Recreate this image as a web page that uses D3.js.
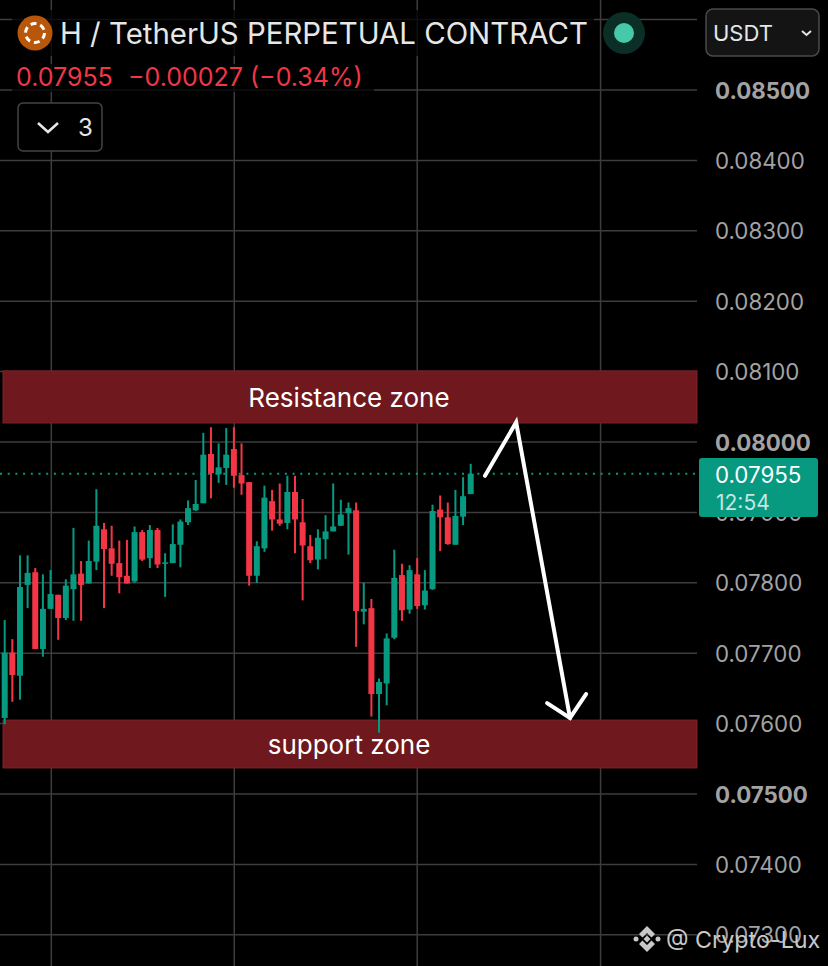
<!DOCTYPE html>
<html>
<head>
<meta charset="utf-8">
<script src="https://cdn.jsdelivr.net/npm/d3@7"></script>
<style>
  html, body { margin: 0; padding: 0; background: #000; }
  svg { display: block; font-family: Inter, "Noto Sans", sans-serif; }
</style>
</head>
<body>
<div id="chart"></div>
<script>
// candles
var opens = [0.07608,0.07701,0.07668,0.07797,0.07815,0.07706,0.07763,0.07783,0.07750,0.07791,0.07813,0.07799,0.07830,0.07876,0.07849,0.07828,0.07810,0.07802,0.07872,0.07835,0.07875,0.07828,0.07828,0.07854,0.07886,0.07903,0.07913,0.07983,0.07954,0.07963,0.07990,0.07953,0.07943,0.07810,0.07849,0.07916,0.07890,0.07885,0.07929,0.07886,0.07852,0.07833,0.07862,0.07873,0.07881,0.07899,0.07903,0.07759,0.07764,0.07642,0.07657,0.07722,0.07811,0.07762,0.07812,0.07768,0.07791,0.07904,0.07893,0.07854,0.07894,0.07926];
var highs = [0.07747,0.07720,0.07839,0.07839,0.07821,0.07812,0.07818,0.07783,0.07805,0.07878,0.07831,0.07860,0.07933,0.07885,0.07881,0.07860,0.07861,0.07880,0.07875,0.07882,0.07878,0.07842,0.07883,0.07890,0.07917,0.07946,0.08013,0.08021,0.07998,0.08020,0.08021,0.07998,0.07943,0.07859,0.07938,0.07932,0.07941,0.07952,0.07952,0.07919,0.07868,0.07876,0.07896,0.07941,0.07918,0.07914,0.07914,0.07800,0.07777,0.07664,0.07728,0.07847,0.07827,0.07825,0.07835,0.07818,0.07911,0.07924,0.07914,0.07932,0.07950,0.07969];
var lows = [0.07599,0.07631,0.07634,0.07764,0.07706,0.07695,0.07763,0.07719,0.07747,0.07746,0.07746,0.07799,0.07818,0.07764,0.07810,0.07785,0.07799,0.07800,0.07831,0.07821,0.07821,0.07780,0.07828,0.07822,0.07882,0.07902,0.07913,0.07920,0.07942,0.07939,0.07935,0.07925,0.07796,0.07800,0.07844,0.07874,0.07881,0.07876,0.07842,0.07775,0.07828,0.07819,0.07834,0.07873,0.07881,0.07840,0.07709,0.07741,0.07610,0.07587,0.07626,0.07720,0.07746,0.07756,0.07763,0.07762,0.07790,0.07845,0.07854,0.07854,0.07882,0.07926];
var closes = [0.07701,0.07669,0.07794,0.07814,0.07706,0.07763,0.07784,0.07750,0.07796,0.07812,0.07797,0.07831,0.07881,0.07848,0.07827,0.07808,0.07799,0.07872,0.07833,0.07875,0.07826,0.07829,0.07855,0.07887,0.07906,0.07912,0.07982,0.07956,0.07964,0.07982,0.07952,0.07941,0.07810,0.07852,0.07921,0.07890,0.07884,0.07929,0.07890,0.07853,0.07832,0.07864,0.07873,0.07880,0.07897,0.07906,0.07760,0.07763,0.07642,0.07659,0.07721,0.07807,0.07761,0.07818,0.07767,0.07789,0.07902,0.07893,0.07855,0.07895,0.07923,0.07955];

var priceTicks = [0.086,0.085,0.084,0.083,0.082,0.081,0.080,0.079,0.078,0.077,0.076,0.075,0.074,0.073];
var boldTicks = [0.085,0.080,0.075];
var timeTicks = [6.1,30.05,54,78];
var lastPrice = 0.07955;

var zones = [
  {label:"Resistance zone", top:0.08101, bottom:0.08027},
  {label:"support zone", top:0.07605, bottom:0.07537}
];
// hand drawn arrow, candle index / price
var arrowLine = [[62.87,0.07952],[66.95,0.08028],[74,0.07608]];
var arrowHead = [[71,0.07629],[74,0.07608],[76.1,0.07642]];

var width = 828, height = 966;
var green = "#089981", red = "#f23645";

var svg = d3.select("#chart").append("svg")
  .attr("width", width).attr("height", height)
  .style("background", "#000");

var x = d3.scaleLinear().domain([0, 61]).range([4.7, 470.7]);
var y = d3.scaleLinear().domain([0.085, 0.075]).range([90, 794]);
var plotRight = 697;

// grid
svg.append("g").selectAll("line").data(priceTicks).join("line")
  .attr("x1", 0).attr("x2", plotRight)
  .attr("y1", d => y(d)).attr("y2", d => y(d))
  .attr("stroke", "#3d3d3d").attr("stroke-width", 1.5);
svg.append("g").selectAll("line").data(timeTicks).join("line")
  .attr("x1", d => x(d)).attr("x2", d => x(d))
  .attr("y1", 0).attr("y2", height)
  .attr("stroke", "#3d3d3d").attr("stroke-width", 1.5);

// zones
svg.append("g").selectAll("rect").data(zones).join("rect")
  .attr("x", 3).attr("width", plotRight - 3)
  .attr("y", d => y(d.top)).attr("height", d => y(d.bottom) - y(d.top))
  .attr("fill", "#6f181e").attr("stroke", "#7d2328").attr("stroke-width", 1);

// last price line
svg.append("line")
  .attr("x1", 0).attr("x2", 699)
  .attr("y1", y(lastPrice)).attr("y2", y(lastPrice))
  .attr("stroke", green).attr("stroke-width", 2).attr("stroke-dasharray", "2 5.7");

// candles
var candle = svg.append("g").selectAll("g").data(d3.range(opens.length)).join("g")
  .attr("fill", i => closes[i] >= opens[i] ? green : red);
candle.append("rect")
  .attr("x", i => x(i) - 1).attr("width", 2)
  .attr("y", i => y(highs[i])).attr("height", i => y(lows[i]) - y(highs[i]));
candle.append("rect")
  .attr("x", i => x(i) - 3).attr("width", 6)
  .attr("y", i => y(Math.max(opens[i], closes[i])))
  .attr("height", i => Math.max(1.5, Math.abs(y(opens[i]) - y(closes[i]))));

// zone labels
svg.append("g").selectAll("text").data(zones).join("text")
  .attr("x", 349)
  .attr("y", d => (y(d.top) + y(d.bottom)) / 2 + 10)
  .attr("text-anchor", "middle").attr("fill", "#fff")
  .attr("font-size", 26).text(d => d.label);

// arrow
var arrow = d3.line().x(d => x(d[0])).y(d => y(d[1]));
[arrowLine, arrowHead].forEach(function(pts) {
  svg.append("path").attr("d", arrow(pts))
    .attr("fill", "none").attr("stroke", "#fff").attr("stroke-width", 4)
    .attr("stroke-linecap", "round").attr("stroke-linejoin", "miter");
});

// price axis
svg.append("g").selectAll("text").data(priceTicks.slice(1)).join("text")
  .attr("x", 715).attr("y", d => y(d) + 8.5)
  .attr("fill", "#a3a3a3").attr("font-size", 22.3)
  .attr("font-weight", d => boldTicks.indexOf(d) >= 0 ? 700 : 400)
  .text(d => d3.format(".5f")(d));

// last price badge
svg.append("rect").attr("x", 699).attr("y", 458).attr("width", 119).attr("height", 59)
  .attr("rx", 3).attr("fill", "#089981");
svg.append("text").attr("x", 715).attr("y", 483).attr("fill", "#fff").attr("font-size", 22.3)
  .text(d3.format(".5f")(lastPrice));
svg.append("text").attr("x", 716).attr("y", 510).attr("fill", "#c4e6df").attr("font-size", 21)
  .text("12:54");

// legend
svg.append("rect").attr("x", 12).attr("y", 10).attr("width", 582).attr("height", 46)
  .attr("fill", "#000").attr("opacity", 0.75);
svg.append("rect").attr("x", 12).attr("y", 64).attr("width", 362).attr("height", 28)
  .attr("fill", "#000").attr("opacity", 0.75);
svg.append("circle").attr("cx", 35).attr("cy", 33).attr("r", 17.5).attr("fill", "#b8560a");
svg.append("circle").attr("cx", 35).attr("cy", 33).attr("r", 9.5)
  .attr("fill", "none").attr("stroke", "#fff").attr("stroke-width", 3).attr("stroke-dasharray", "6 4");
svg.append("text").attr("x", 60).attr("y", 44).attr("fill", "#e6e6e6").attr("font-size", 29.4)
  .text("H / TetherUS PERPETUAL CONTRACT");
svg.append("text").attr("x", 16).attr("y", 86).attr("fill", red).attr("font-size", 25)
  .text("0.07955");
svg.append("text").attr("x", 128).attr("y", 86).attr("fill", red).attr("font-size", 25)
  .text("−0.00027 (−0.34%)");

// status dot
svg.append("circle").attr("cx", 624).attr("cy", 33).attr("r", 21).attr("fill", "#0b2e27");
svg.append("circle").attr("cx", 624).attr("cy", 33).attr("r", 10).attr("fill", "#45c9a8");

// collapse button
svg.append("rect").attr("x", 18).attr("y", 103).attr("width", 84).attr("height", 48)
  .attr("rx", 5).attr("fill", "#000").attr("stroke", "#444").attr("stroke-width", 1.5);
svg.append("path").attr("d", "M38 123l10 9l10-9").attr("fill", "none")
  .attr("stroke", "#e6e6e6").attr("stroke-width", 2.5);
svg.append("text").attr("x", 78).attr("y", 136).attr("fill", "#e6e6e6").attr("font-size", 24).text("3");

// currency select
svg.append("rect").attr("x", 706).attr("y", 9).attr("width", 113).attr("height", 47)
  .attr("rx", 7).attr("fill", "#141414").attr("stroke", "#4a4a4a").attr("stroke-width", 1.5);
svg.append("text").attr("x", 713).attr("y", 41).attr("fill", "#e6e6e6").attr("font-size", 22).text("USDT");
svg.append("path").attr("d", "M802 31l4.5 4l4.5-4").attr("fill", "none")
  .attr("stroke", "#e6e6e6").attr("stroke-width", 2);

// watermark
var wm = svg.append("g").attr("fill", "#c8c8c8");
wm.append("path").attr("d", "M647 926l8 8-3.5 3.5-4.5-4.5-4.5 4.5-3.5-3.5zM647 952l8-8-3.5-3.5-4.5 4.5-4.5-4.5-3.5 3.5zM647 935.5l3.5 3.5-3.5 3.5-3.5-3.5z");
wm.append("circle").attr("cx", 636).attr("cy", 939).attr("r", 2.5);
wm.append("circle").attr("cx", 658).attr("cy", 939).attr("r", 2.5);
wm.append("text").attr("x", 666).attr("y", 948).attr("font-size", 23.3).text("@ Crypto-Lux");
</script>
</body>
</html>
